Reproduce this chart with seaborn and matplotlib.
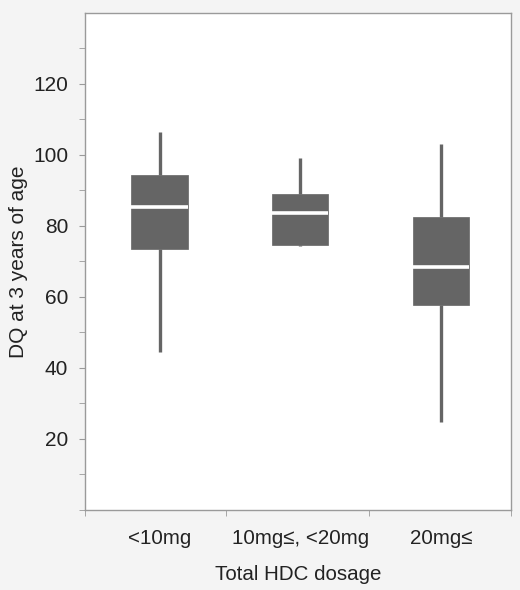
import numpy as np
import pandas as pd
import matplotlib
matplotlib.use("Agg")
import matplotlib.pyplot as plt
from matplotlib.ticker import FixedLocator
import seaborn as sns

# five-number summaries (min, Q1, median, Q3, max)
categories = ["<10mg", "10mg≤, <20mg", "20mg≤"]
dq_low = [44.6, 73.6, 85.4, 94.4, 106.5]
dq_mid = [74.4, 74.7, 83.7, 88.9, 99.1]
dq_high = [24.7, 57.7, 68.4, 82.6, 103.1]

df = pd.DataFrame({
    "dose": [categories[0]] * len(dq_low) + [categories[1]] * len(dq_mid) + [categories[2]] * len(dq_high),
    "dq": dq_low + dq_mid + dq_high,
})

sns.set_style("ticks")
plt.rcParams["font.family"] = ["Liberation Sans", "DejaVu Sans"]

box_col = "#656565"
spine_col = "#9a9a9a"

fig = plt.figure(figsize=(5.2, 5.9), dpi=100, facecolor="#f4f4f4")
ax = fig.add_axes([0.1635, 0.1356, 0.8195, 0.8424])
ax.set_facecolor("white")

sns.boxplot(data=df, x="dose", y="dq", order=categories, ax=ax,
            color=box_col, linecolor=box_col, width=0.4, whis=np.inf,
            linewidth=2.2, showcaps=False, fill=True, saturation=1,
            boxprops=dict(facecolor=box_col, edgecolor=box_col, linewidth=0.5),
            medianprops=dict(color="white", linewidth=2.6),
            whiskerprops=dict(color=box_col, linewidth=2.4))

ax.set_xlim(-0.53, 2.5)
ax.set_ylim(0, 140)
ax.yaxis.set_major_locator(FixedLocator([20, 40, 60, 80, 100, 120]))
ax.yaxis.set_minor_locator(FixedLocator([0, 10, 30, 50, 70, 90, 110, 130]))
ax.xaxis.set_minor_locator(FixedLocator([-0.53, 0.47, 1.49, 2.5]))
ax.tick_params(axis="x", which="major", length=0, pad=14, labelsize=14.8, labelcolor="#222222")
ax.tick_params(axis="x", which="minor", length=4, color=spine_col, direction="out")
ax.tick_params(axis="y", which="both", length=4, color=spine_col, direction="out",
               labelsize=15, labelcolor="#222222", pad=8)

for side in ["left", "bottom", "top", "right"]:
    ax.spines[side].set_visible(True)
    ax.spines[side].set_color(spine_col)
    ax.spines[side].set_linewidth(1.0)

ax.set_xlabel("Total HDC dosage", fontsize=14.8, color="#222222", labelpad=12)
ax.set_ylabel("DQ at 3 years of age", fontsize=15, color="#222222", labelpad=4)

fig.savefig("out.png", dpi=100, facecolor=fig.get_facecolor())
